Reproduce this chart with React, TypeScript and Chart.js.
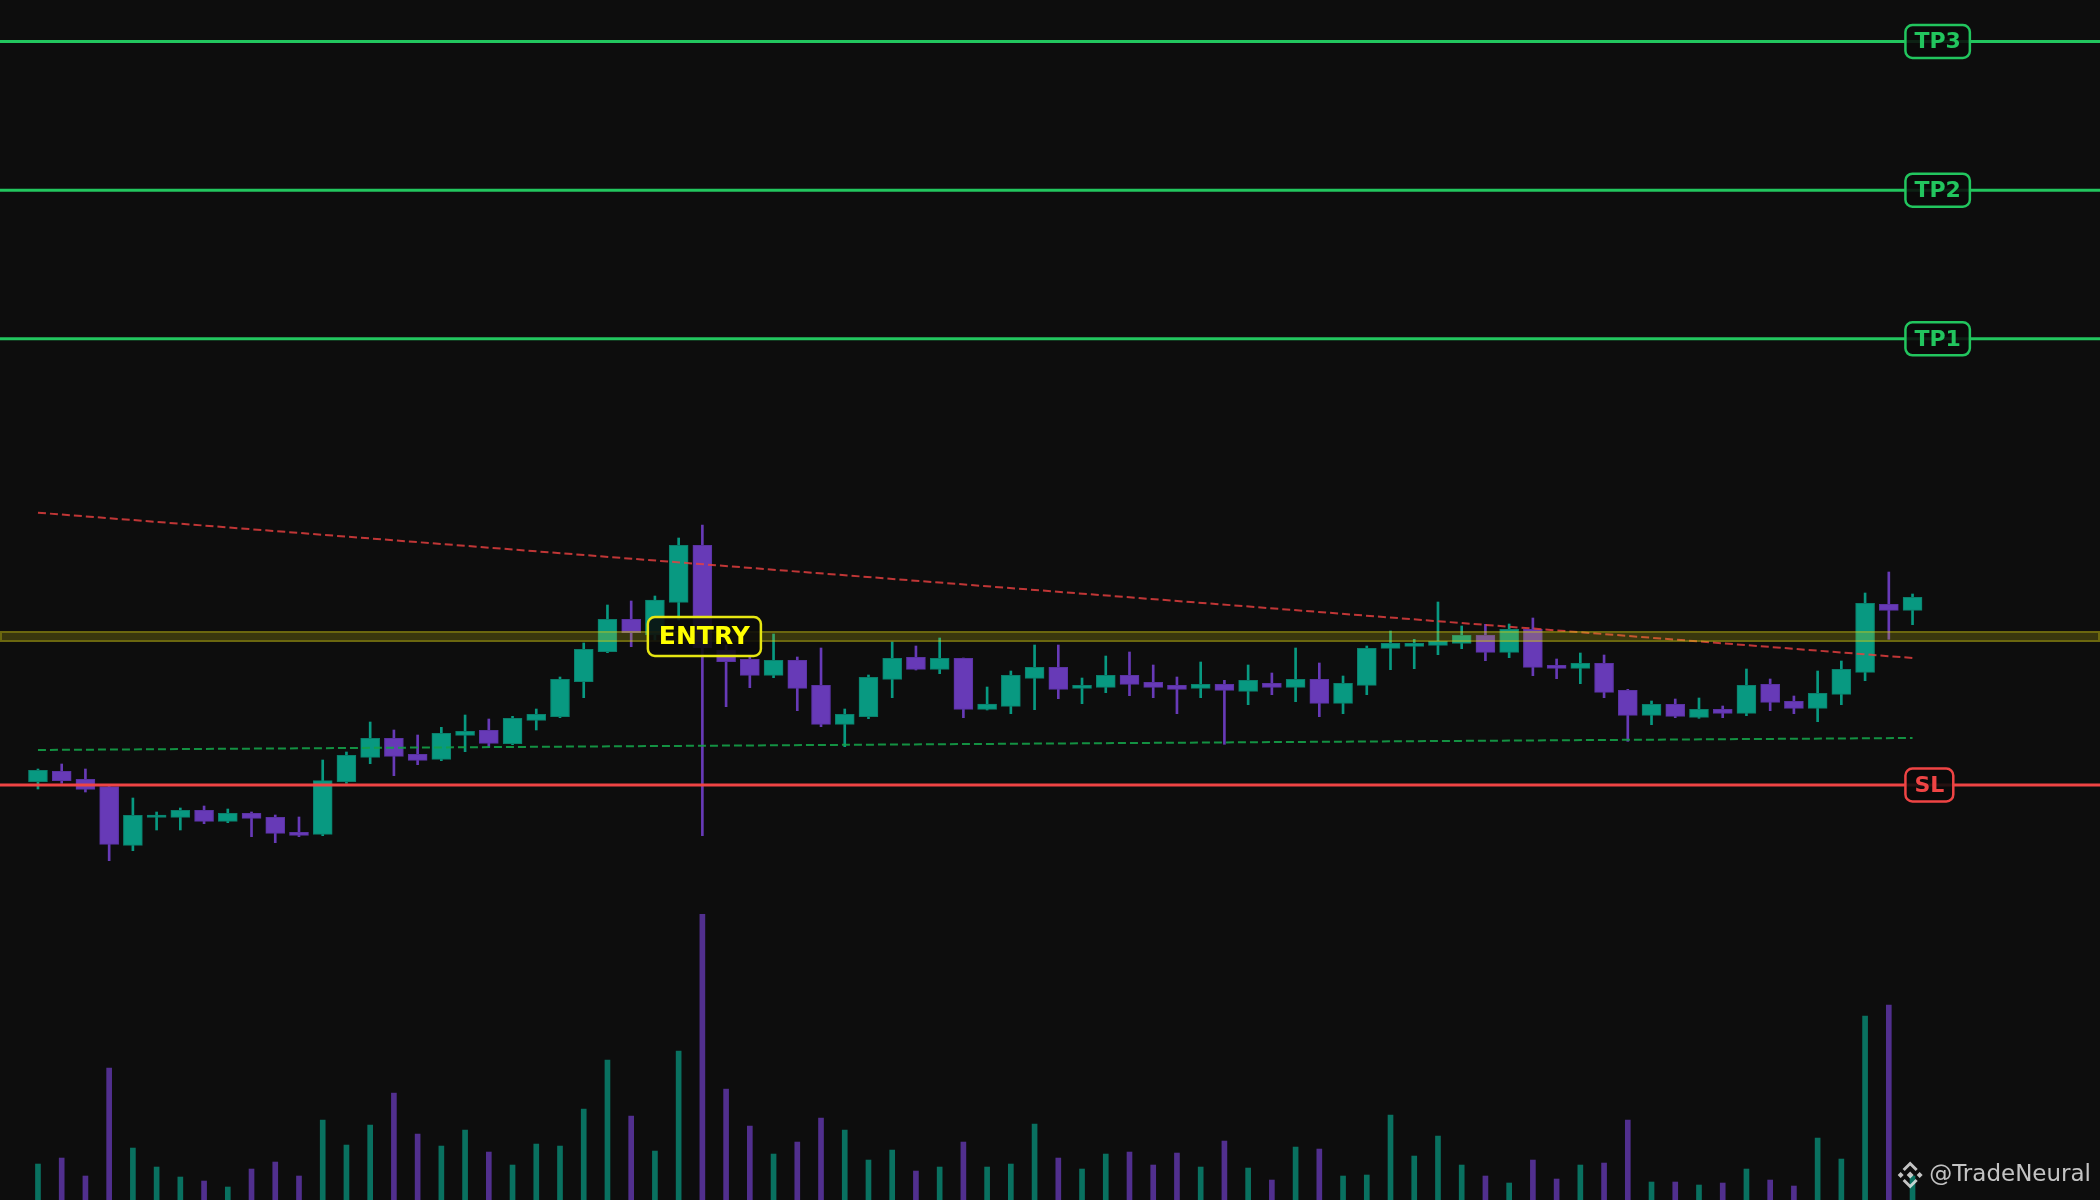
import { useEffect, useRef } from 'react';
import { Chart, registerables } from 'chart.js';

Chart.register(...registerables);

// OHLC per candle (price units are arbitrary)
const opens = [
  41.83, 42.87, 42.07, 41.33, 35.47, 38.27, 38.27, 38.97, 37.87, 38.67,
  38.27, 36.77, 36.57, 41.83, 44.27, 46.17, 44.57, 44.07, 46.47, 46.97,
  45.63, 47.97, 48.33, 51.83, 54.83, 58.07, 56.5, 59.77, 65.47, 55.0,
  54.07, 52.47, 53.97, 51.47, 47.57, 48.33, 52.07, 54.27, 53.07, 54.17,
  49.07, 49.37, 52.17, 53.27, 51.17, 51.27, 52.47, 51.77, 51.47, 51.17,
  51.57, 50.87, 51.67, 51.27, 52.07, 49.67, 51.47, 55.17, 55.37, 55.47,
  55.67, 56.47, 54.77, 57.07, 53.47, 53.17, 53.67, 50.97, 48.47, 49.57,
  48.27, 49.07, 48.67, 51.57, 49.87, 49.17, 50.57, 52.77, 59.57, 58.97,
];
const highs = [
  43.1, 43.6, 43.1, 41.4, 40.2, 38.8, 39.2, 39.4, 39.1, 38.8,
  38.5, 38.3, 44.0, 44.8, 47.8, 47.0, 46.5, 47.27, 48.5, 48.1,
  48.37, 49.1, 52.3, 55.7, 59.5, 59.9, 60.4, 66.2, 67.5, 55.5,
  54.33, 56.6, 54.3, 55.2, 49.1, 52.5, 55.8, 55.4, 56.2, 54.2,
  51.3, 52.9, 55.5, 55.5, 52.2, 54.4, 54.8, 53.5, 52.3, 53.8,
  51.97, 53.5, 52.7, 55.2, 53.7, 52.4, 55.4, 56.9, 56.07, 59.8,
  57.4, 57.57, 57.6, 58.2, 54.1, 54.7, 54.5, 51.07, 49.9, 50.1,
  50.2, 49.4, 53.1, 52.1, 50.4, 52.9, 53.9, 60.7, 62.8, 60.6,
];
const lows = [
  41.1, 41.67, 40.8, 33.93, 34.93, 37.0, 37.0, 37.63, 37.73, 36.33,
  35.73, 36.33, 36.43, 41.67, 43.63, 42.43, 43.53, 43.93, 44.83, 45.27,
  45.53, 47.0, 48.23, 50.23, 54.73, 55.33, 56.0, 58.0, 36.43, 49.33,
  51.23, 52.23, 48.93, 47.33, 45.33, 48.13, 50.23, 53.0, 52.63, 48.23,
  49.0, 48.63, 49.03, 50.13, 49.63, 50.73, 50.43, 50.23, 48.63, 50.23,
  45.57, 49.53, 50.53, 49.83, 48.33, 48.63, 50.53, 53.03, 53.13, 54.53,
  55.13, 53.93, 54.23, 52.43, 52.13, 51.63, 50.23, 45.87, 47.53, 48.23,
  48.17, 48.23, 48.43, 48.93, 48.63, 47.83, 49.53, 51.93, 56.07, 57.53,
];
const closes = [
  42.97, 41.93, 41.07, 35.57, 38.47, 38.5, 38.97, 37.87, 38.67, 38.17,
  36.67, 36.47, 41.93, 44.47, 46.17, 44.37, 43.97, 46.67, 46.87, 45.67,
  48.17, 48.57, 52.07, 55.07, 58.07, 56.73, 60.0, 65.47, 55.2, 53.83,
  52.47, 53.97, 51.17, 47.57, 48.57, 52.27, 54.17, 53.07, 54.17, 49.07,
  49.6, 52.47, 53.27, 51.07, 51.47, 52.47, 51.57, 51.27, 51.07, 51.57,
  50.97, 51.97, 51.27, 52.07, 49.67, 51.67, 55.17, 55.67, 55.67, 55.87,
  56.47, 54.77, 57.07, 53.27, 53.17, 53.67, 50.77, 48.47, 49.57, 48.37,
  49.07, 48.67, 51.47, 49.77, 49.17, 50.67, 53.07, 59.67, 58.97, 60.27,
];
const volumes = [
  36, 42, 24, 132, 52, 33, 23, 19, 13, 31,
  38, 24, 80, 55, 75, 107, 66, 54, 70, 48,
  35, 56, 54, 91, 140, 84, 49, 149, 286, 111,
  74, 46, 58, 82, 70, 40, 50, 29, 33, 58,
  33, 36, 76, 42, 31, 46, 48, 35, 47, 33,
  59, 32, 20, 53, 51, 24, 25, 85, 44, 64,
  35, 24, 17, 40, 21, 35, 37, 80, 18, 18,
  15, 17, 31, 20, 14, 62, 41, 184, 195, 24,
];

// trade levels
const levelLabels = ['TP3', 'TP2', 'TP1', 'SL'];
const levelPrices = [115.85, 100.98, 86.12, 41.5];
const entryPrice = 56.35;
const entryZone = [55.8, 56.9];
const entryIndex = 28;

// trend lines (candle index -> price)
const resistanceIdx = [0, 79];
const resistancePrices = [68.73, 54.2];
const supportIdx = [0, 79];
const supportPrices = [45.0, 46.2];

const BG = '#0d0d0d';
const UP = '#089981';
const DOWN = '#673ab7';
const GREEN = '#22c55e';
const RED = '#ef4444';

function tag(ctx: CanvasRenderingContext2D, text: string, x: number, y: number, color: string,
  size: number, padX: number, h: number, centered: boolean) {
  ctx.save();
  ctx.font = `bold ${size}px "DejaVu Sans"`;
  const w = ctx.measureText(text).width + padX * 2;
  const left = centered ? x - w / 2 : x;
  ctx.beginPath();
  ctx.roundRect(left, y - h / 2, w, h, 7);
  ctx.fillStyle = 'rgba(10,10,10,0.88)';
  ctx.fill();
  ctx.lineWidth = 2.5;
  ctx.strokeStyle = color;
  ctx.stroke();
  ctx.fillStyle = color === RED || color === GREEN ? color : '#ffff00';
  ctx.textAlign = 'center';
  ctx.textBaseline = 'middle';
  ctx.fillText(text, left + w / 2, y + 1);
  ctx.restore();
}

const overlayPlugin = {
  id: 'overlay',
  beforeDraw(chart: any) {
    const { ctx, width, height } = chart;
    ctx.save();
    ctx.fillStyle = BG;
    ctx.fillRect(0, 0, width, height);
    ctx.restore();
  },
  afterDatasetsDraw(chart: any) {
    const { ctx, chartArea, scales } = chart;
    const { x, y } = scales;
    ctx.save();

    // entry zone
    const zTop = y.getPixelForValue(entryZone[1]);
    const zBot = y.getPixelForValue(entryZone[0]);
    ctx.fillStyle = 'rgba(214, 204, 18, 0.22)';
    ctx.fillRect(chartArea.left, zTop, chartArea.width, zBot - zTop);
    ctx.strokeStyle = 'rgba(214, 204, 18, 0.32)';
    ctx.lineWidth = 2;
    ctx.strokeRect(chartArea.left + 1, zTop + 1, chartArea.width - 2, zBot - zTop - 2);

    // level lines
    levelPrices.forEach((p, k) => {
      const py = y.getPixelForValue(p);
      ctx.strokeStyle = levelLabels[k] === 'SL' ? RED : GREEN;
      ctx.lineWidth = 3;
      ctx.beginPath();
      ctx.moveTo(chartArea.left, py);
      ctx.lineTo(chartArea.right, py);
      ctx.stroke();
    });
    ctx.restore();

    const tagX = x.getPixelForValue(78.7);
    levelPrices.forEach((p, k) => {
      tag(ctx, levelLabels[k], tagX, y.getPixelForValue(p), levelLabels[k] === 'SL' ? RED : GREEN, 22, 9, 33, false);
    });
    tag(ctx, 'ENTRY', x.getPixelForValue(entryIndex) + 2, y.getPixelForValue(entryPrice), '#e6e612', 25, 11, 39, true);

    // watermark
    ctx.save();
    const wx = chartArea.right - 9;
    const wy = chartArea.bottom - 25;
    ctx.font = '23px "DejaVu Sans"';
    ctx.fillStyle = 'rgba(235,235,235,0.82)';
    ctx.textAlign = 'right';
    ctx.textBaseline = 'middle';
    ctx.fillText('@TradeNeural', wx, wy);
    const tw = ctx.measureText('@TradeNeural').width;
    const cx = wx - tw - 19;
    const cy = wy;
    const diamond = (dx: number, dy: number, a: number) => {
      ctx.beginPath();
      ctx.moveTo(cx + dx, cy + dy - a);
      ctx.lineTo(cx + dx + a, cy + dy);
      ctx.lineTo(cx + dx, cy + dy + a);
      ctx.lineTo(cx + dx - a, cy + dy);
      ctx.closePath();
      ctx.fill();
    };
    diamond(0, 0, 3.5);
    diamond(-9.5, 0, 3);
    diamond(9.5, 0, 3);
    ctx.strokeStyle = 'rgba(235,235,235,0.82)';
    ctx.lineWidth = 3;
    ctx.beginPath();
    ctx.moveTo(cx - 6.5, cy - 5);
    ctx.lineTo(cx, cy - 11.5);
    ctx.lineTo(cx + 6.5, cy - 5);
    ctx.moveTo(cx - 6.5, cy + 5);
    ctx.lineTo(cx, cy + 11.5);
    ctx.lineTo(cx + 6.5, cy + 5);
    ctx.stroke();
    ctx.restore();
  },
};

export default function App() {
  const canvasRef = useRef<HTMLCanvasElement>(null);

  useEffect(() => {
    document.body.style.margin = '0';
    document.body.style.background = BG;
    if (!canvasRef.current) return;

    const idx = opens.map((_, i) => i);
    const isUp = idx.map((i) => closes[i] >= opens[i]);

    const chart = new Chart(canvasRef.current, {
      type: 'bar',
      data: {
        datasets: [
          {
            type: 'line',
            label: 'Resistance',
            data: resistanceIdx.map((v, k) => ({ x: v, y: resistancePrices[k] })),
            borderColor: 'rgba(232, 64, 64, 0.82)',
            borderWidth: 2,
            borderDash: [8, 4],
            pointRadius: 0,
            order: 0,
            yAxisID: 'y',
          },
          {
            type: 'line',
            label: 'Support',
            data: supportIdx.map((v, k) => ({ x: v, y: supportPrices[k] })),
            borderColor: 'rgba(20, 160, 72, 0.9)',
            borderWidth: 2,
            borderDash: [8, 4],
            pointRadius: 0,
            order: 0,
            yAxisID: 'y',
          },
          {
            label: 'Body',
            data: idx.map((i) => ({ x: i, y: [opens[i], closes[i]] })),
            backgroundColor: isUp.map((u) => (u ? UP : DOWN)),
            borderColor: isUp.map((u) => (u ? '#0b7f6b' : '#5a32a3')),
            borderWidth: 1,
            borderSkipped: false,
            barThickness: 19,
            grouped: false,
            order: 1,
            yAxisID: 'y',
          },
          {
            label: 'Wick',
            data: idx.map((i) => ({ x: i, y: [lows[i], highs[i]] })),
            backgroundColor: isUp.map((u) => (u ? UP : DOWN)),
            barThickness: 2,
            grouped: false,
            order: 2,
            yAxisID: 'y',
          },
          {
            label: 'Volume',
            data: idx.map((i) => ({ x: i, y: volumes[i] })),
            backgroundColor: isUp.map((u) => (u ? 'rgba(8,153,129,0.72)' : 'rgba(103,58,183,0.76)')),
            barThickness: 5,
            grouped: false,
            order: 3,
            yAxisID: 'yVol',
          },
        ] as any,
      },
      options: {
        animation: false,
        responsive: false,
        maintainAspectRatio: false,
        events: [],
        layout: { padding: 0 },
        plugins: { legend: { display: false }, tooltip: { enabled: false } },
        scales: {
          x: { type: 'linear', min: -1.6, max: 86.9, display: false, offset: false },
          y: { min: 0, max: 120, display: false },
          yVol: { min: 0, max: Math.max(...volumes) * 4.2, display: false },
        },
      },
      plugins: [overlayPlugin],
    });

    return () => {
      chart.destroy();
    };
  }, []);

  return (
    <div style={{ width: 2100, height: 1200, background: BG }}>
      <canvas ref={canvasRef} width={2100} height={1200} style={{ display: 'block' }}></canvas>
    </div>
  );
}
